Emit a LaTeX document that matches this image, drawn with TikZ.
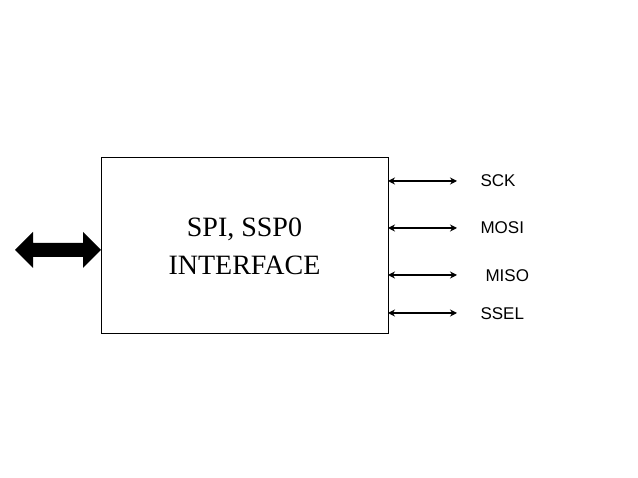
\documentclass[tikz,border=0pt]{standalone}
\usepackage{fontspec}
\setmainfont{Liberation Serif}
\newfontfamily\arialf{Liberation Sans}
\usetikzlibrary{arrows.meta}
\begin{document}
\begin{tikzpicture}[x=1pt,y=-1pt,
  sig/.style={draw,line width=1.6pt,{Stealth[length=7pt,width=7pt]}-{Stealth[length=7pt,width=7pt]}},
  lbl/.style={font=\arialf\fontsize{17}{20}\selectfont,anchor=west}]
\useasboundingbox (0,0) rectangle (638,478);
\node[draw,line width=1pt,minimum width=287pt,minimum height=176pt,inner sep=0pt,
  align=center,font=\fontsize{28}{38}\selectfont] (box) at (244.5,246) {SPI, SSP0\\INTERFACE};
\fill (15,250) -- (33,232) -- (33,243) -- (83,243) -- (83,232) -- (101,250) -- (83,268) -- (83,257) -- (33,257) -- (33,268) -- cycle;
\coordinate (a1) at (388,181); \coordinate (b1) at (457,181);
\coordinate (a2) at (388,228); \coordinate (b2) at (457,228);
\coordinate (a3) at (388,275); \coordinate (b3) at (457,275);
\coordinate (a4) at (388,313); \coordinate (b4) at (457,313);
\draw[sig] (a1) -- (b1); \draw[sig] (a2) -- (b2); \draw[sig] (a3) -- (b3); \draw[sig] (a4) -- (b4);
\node[lbl] (l1) at (477,181) {SCK};
\node[lbl] (l2) at (477,228) {MOSI};
\node[lbl] (l3) at (482,276) {MISO};
\node[lbl] (l4) at (477,314) {SSEL};
\end{tikzpicture}
\end{document}
